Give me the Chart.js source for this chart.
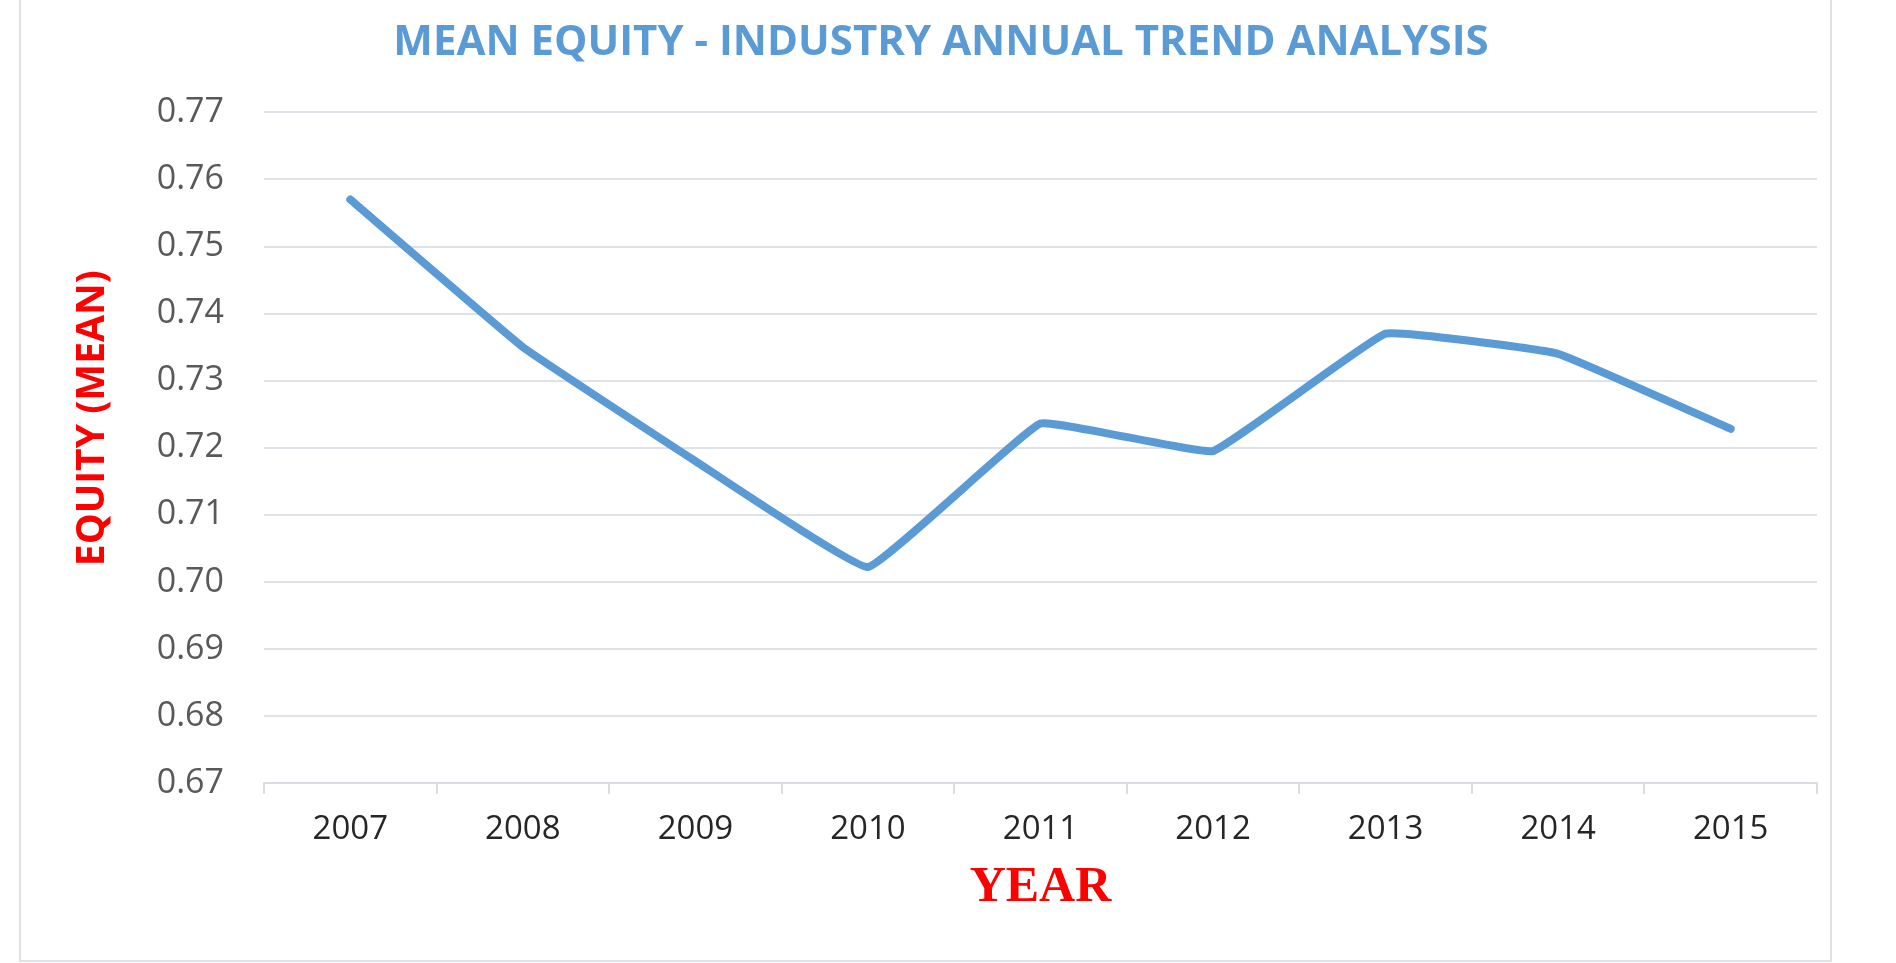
<!DOCTYPE html>
<html>
<head>
<meta charset="utf-8">
<title>Mean Equity - Industry Annual Trend Analysis</title>
<script src="https://cdn.jsdelivr.net/npm/chart.js@4.4.1/dist/chart.umd.min.js"></script>
<style>
    html, body { margin: 0; padding: 0; background: #ffffff; overflow: hidden; }
    #wrap { position: relative; width: 1896px; height: 963px; }
    #moldura {
        position: absolute; left: 19px; top: -4px; width: 1813px; height: 966px;
        box-sizing: border-box; border: 2px solid #dde2e8; pointer-events: none;
    }
</style>
</head>
<body>
<div id="wrap">
    <canvas id="chartEquity"></canvas>
    <div id="moldura"></div>
</div>
<script>
// Dados
const anos = ['2007', '2008', '2009', '2010', '2011', '2012', '2013', '2014', '2015'];
const equityMedia = [0.757, 0.735, 0.718, 0.7022, 0.7236, 0.7195, 0.737, 0.734, 0.7228];
const eixoY = { min: 0.67, max: 0.77, passo: 0.01 };

const tituloGrafico = 'MEAN EQUITY - INDUSTRY ANNUAL TREND ANALYSIS';
const tituloX = 'YEAR';
const tituloY = 'EQUITY (MEAN)';

// Título do eixo Y (fora do centro, como no original)
const tituloEixoY = {
    id: 'tituloEixoY',
    afterDraw(chart) {
        const { ctx, chartArea } = chart;
        const y = chartArea.top + (chartArea.bottom - chartArea.top) * 0.456;
        ctx.save();
        ctx.translate(93, y);
        ctx.rotate(-Math.PI / 2);
        ctx.font = 'bold 39px "Open Sans"';
        ctx.fillStyle = '#ff0000';
        ctx.textAlign = 'center';
        ctx.textBaseline = 'middle';
        ctx.fillText(tituloY, 0, 0);
        ctx.restore();
    }
};

function criarGraficoEquity() {
    const ctx = document.getElementById('chartEquity');

    new Chart(ctx, {
        type: 'line',
        data: {
            labels: anos,
            datasets: [{
                label: 'Equity (mean)',
                data: equityMedia,
                borderColor: '#5b9bd5',
                borderWidth: 8,
                borderCapStyle: 'round',
                borderJoinStyle: 'round',
                pointRadius: 0,
                tension: 0.08,
                fill: false,
            }]
        },
        options: {
            responsive: true,
            maintainAspectRatio: false,
            animation: false,
            devicePixelRatio: 1,
            layout: {
                padding: { left: 65, right: 79, top: 0, bottom: 0 }
            },
            scales: {
                x: {
                    offset: true,
                    afterFit: (scale) => { scale.height = 180; },
                    grid: {
                        offset: true,
                        drawOnChartArea: false,
                        drawTicks: true,
                        tickLength: 11,
                        color: '#d9dde3',
                        lineWidth: 2,
                    },
                    border: { display: true, color: '#d9dde3', width: 2 },
                    ticks: {
                        color: '#262626',
                        padding: 16,
                        font: { family: '"Open Sans"', size: 33 },
                        maxRotation: 0,
                    },
                    title: {
                        display: true,
                        text: tituloX,
                        color: '#ff0000',
                        font: { family: '"Liberation Serif"', size: 50, weight: 'bold' },
                        padding: { top: 0, bottom: 45 },
                    }
                },
                y: {
                    min: eixoY.min,
                    max: eixoY.max,
                    afterFit: (scale) => { scale.width = 199; },
                    grid: {
                        drawTicks: false,
                        color: '#dfe3e8',
                        lineWidth: 2,
                    },
                    border: { display: false },
                    ticks: {
                        stepSize: eixoY.passo,
                        color: '#595959',
                        padding: 40,
                        font: { family: '"Open Sans"', size: 34 },
                        callback: (v) => Number(v).toFixed(2),
                    }
                }
            },
            plugins: {
                legend: { display: false },
                tooltip: { enabled: false },
                title: {
                    display: true,
                    text: tituloGrafico,
                    color: '#5b9bd5',
                    font: { family: '"Open Sans"', size: 42, weight: 'bold' },
                    padding: { top: 18, bottom: 44 },
                }
            }
        },
        plugins: [tituloEixoY]
    });
}

criarGraficoEquity();
</script>
</body>
</html>
